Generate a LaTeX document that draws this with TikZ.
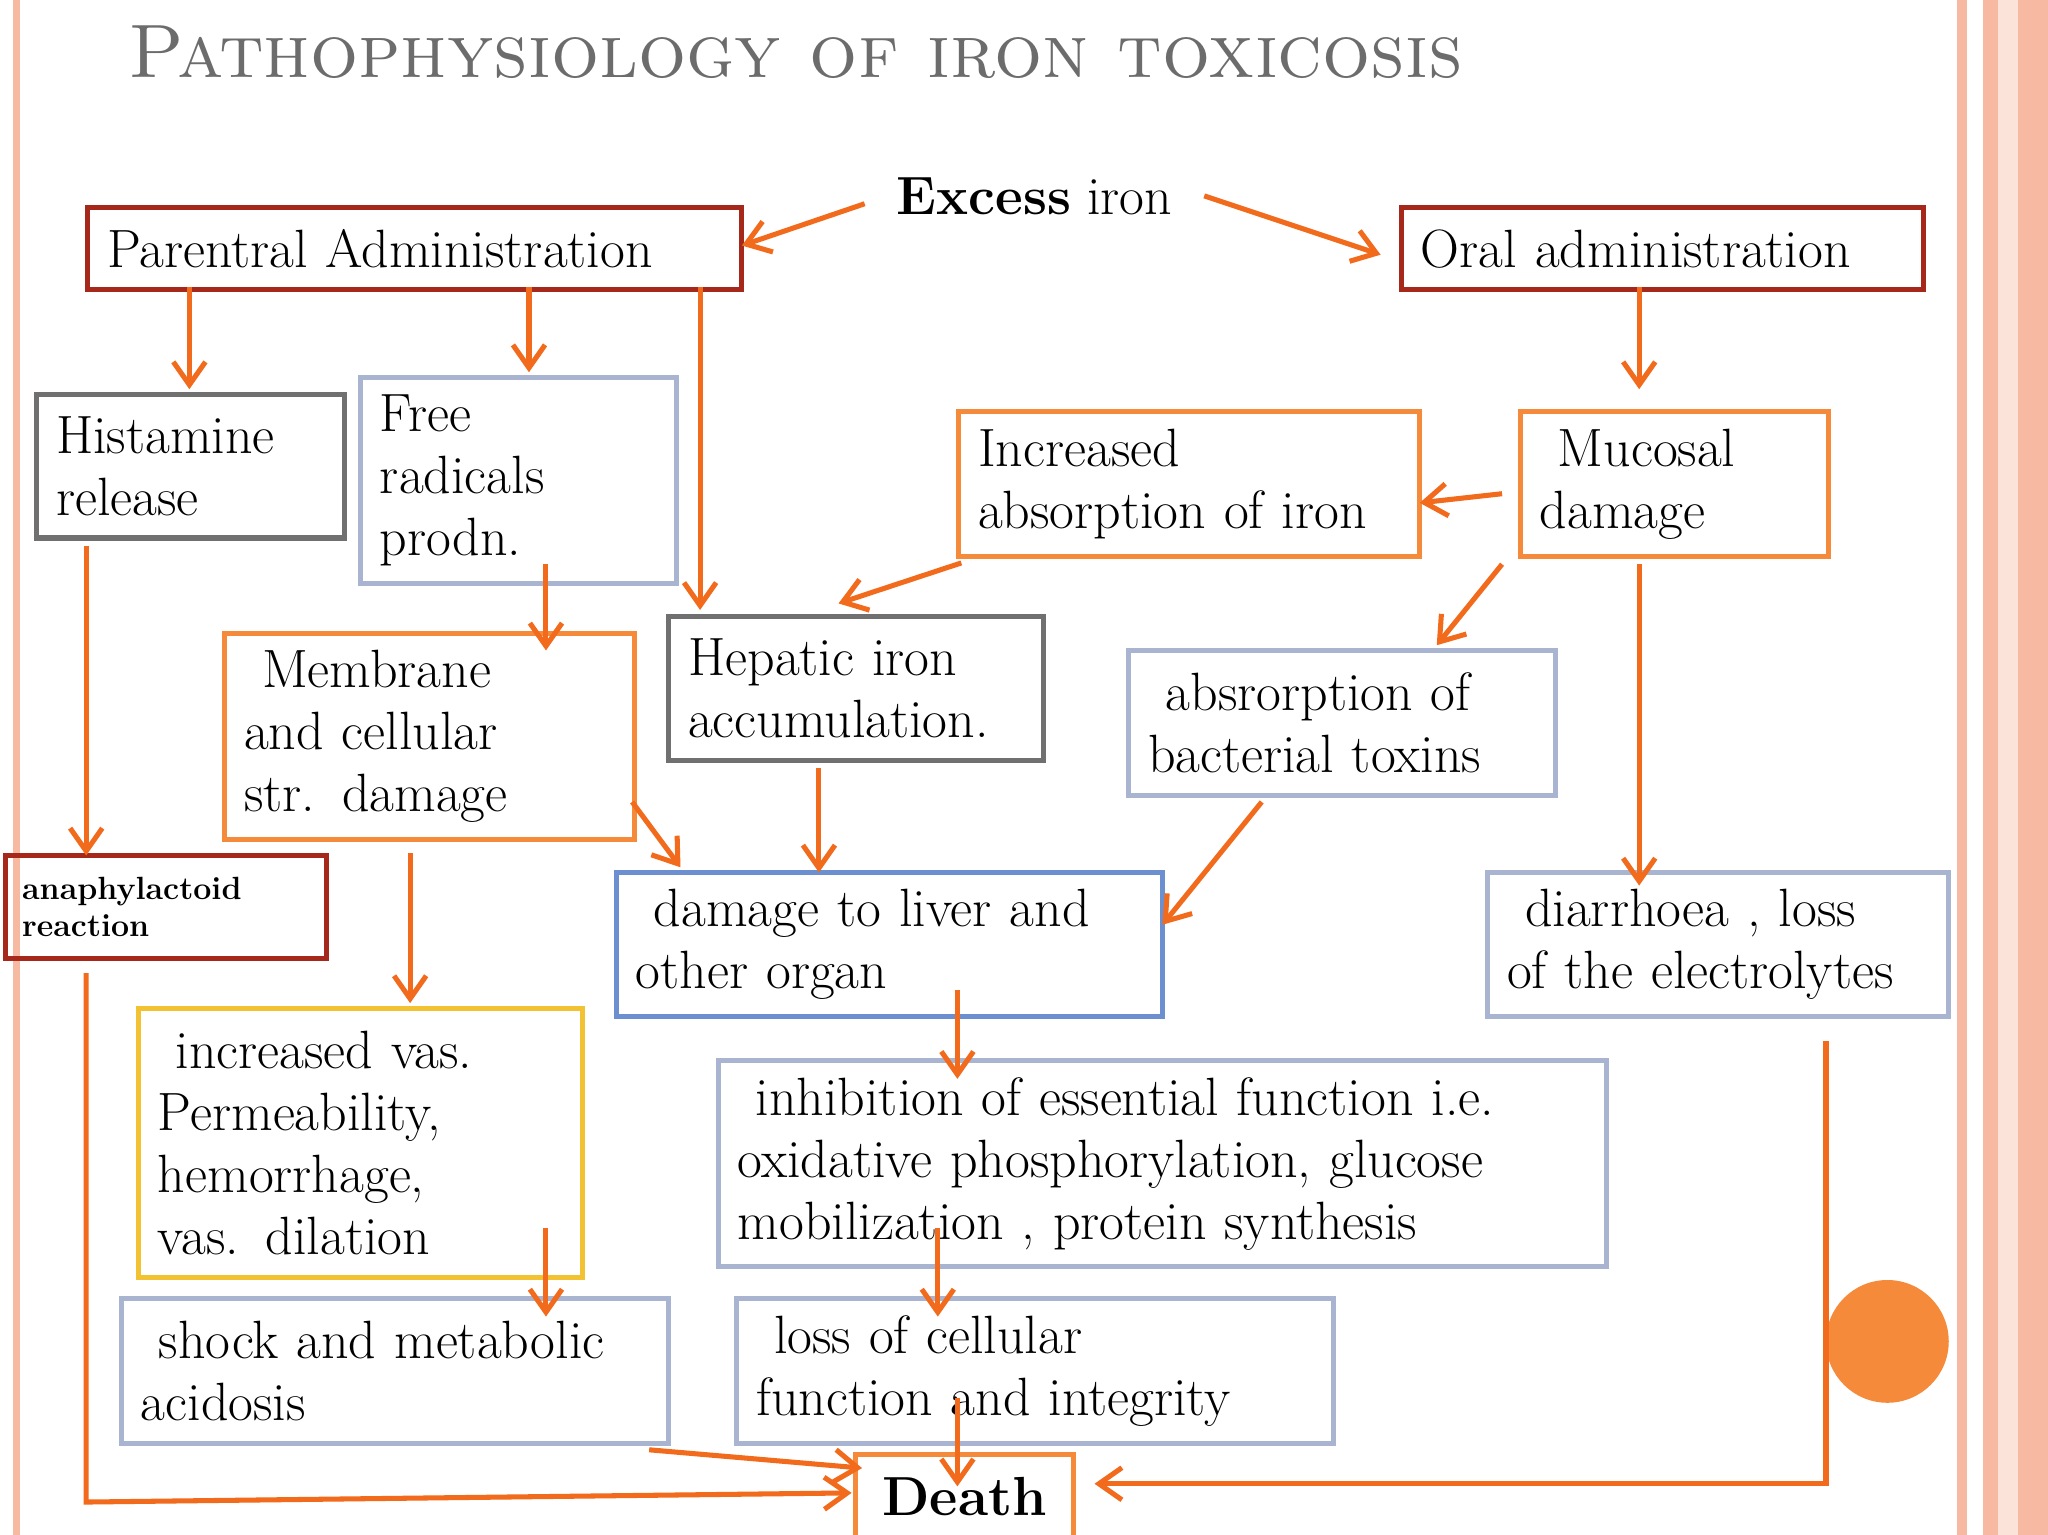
\documentclass[tikz,border=0pt]{standalone}
\usepackage{fontspec}
\usetikzlibrary{arrows.meta}
\definecolor{dred}{HTML}{A5281B}
\definecolor{gbox}{HTML}{707070}
\definecolor{lblue}{HTML}{A9B4D0}
\definecolor{obox}{HTML}{F58A3A}
\definecolor{bbox}{HTML}{6C8FD0}
\definecolor{ybox}{HTML}{F2C232}
\definecolor{arr}{HTML}{F26B1D}
\definecolor{pinkl}{HTML}{F7B9A2}
\begin{document}
\begin{tikzpicture}[x=0.02cm,y=-0.02cm,
  box/.style={draw=#1,line width=2.2pt,anchor=north west,inner xsep=0.3cm,inner ysep=0pt,
    font=\fontsize{23.5}{27}\selectfont,align=left},
  ar/.style={draw=arr,line width=2.2pt,-{Straight Barb[length=10pt,width=14pt]}}]
\useasboundingbox (0,0) rectangle (1568,1175);
\fill[white] (0,0) rectangle (1568,1175);
\fill[pinkl] (10,0) rectangle (15,1175);
\fill[pinkl] (1498,0) rectangle (1506,1175);
\fill[pinkl] (1518,0) rectangle (1568,1175);
\fill[white!60!pinkl] (1530,0) rectangle (1545,1175);
\node[anchor=west,text=gray!85!black,font=\fontsize{33}{36}\selectfont\scshape] (title) at (92,40) {Pathophysiology of iron toxicosis};
\node[font=\fontsize{23.5}{26}\selectfont] (ex) at (792,150) {\textbf{Excess} iron};
\node[box=dred,minimum width=10.02cm,minimum height=1.26cm,text width=9.42cm] (par) at (65,157) {Parentral Administration};
\node[box=dred,minimum width=8cm,minimum height=1.26cm,text width=7.4cm] (oral) at (1071,157) {Oral administration};
\node[box=gbox,minimum width=4.72cm,minimum height=2.2cm,text width=4.12cm] (hist) at (26,300) {Histamine\\release};
\node[box=lblue,minimum width=4.84cm,minimum height=3.16cm,text width=4.24cm] (free) at (274,287) {Free\\radicals\\prodn.};
\node[box=obox,minimum width=7.06cm,minimum height=2.22cm,text width=6.46cm] (inc) at (732,313) {Increased\\absorption of iron};
\node[box=obox,minimum width=4.72cm,minimum height=2.22cm,text width=4.12cm] (muc) at (1162,313) {\ Mucosal\\damage};
\node[box=gbox,minimum width=5.74cm,minimum height=2.2cm,text width=5.14cm] (hep) at (510,470) {Hepatic iron\\accumulation.};
\node[box=lblue,minimum width=6.54cm,minimum height=2.22cm,text width=5.94cm] (bac) at (862,496) {\ absrorption of\\bacterial toxins};
\node[box=obox,minimum width=6.28cm,minimum height=3.16cm,text width=5.68cm] (mem) at (170,483) {\ Membrane\\and cellular\\str. damage};
\node[box=dred,minimum width=4.92cm,minimum height=1.58cm,text width=4.4cm,inner xsep=0.26cm,font=\bfseries\fontsize{14}{16}\selectfont] (ana) at (2,653) {anaphylactoid\\reaction};
\node[box=bbox,minimum width=8.36cm,minimum height=2.2cm,text width=7.76cm] (liv) at (470,666) {\ damage to liver and\\other organ};
\node[box=lblue,minimum width=7.06cm,minimum height=2.2cm,text width=6.46cm] (dia) at (1137,666) {\ diarrhoea , loss\\of the electrolytes};
\node[box=ybox,minimum width=6.8cm,minimum height=4.12cm,text width=6.2cm] (vas) at (104,770) {\ increased vas.\\Permeability,\\hemorrhage,\\vas. dilation};
\node[box=lblue,minimum width=13.6cm,minimum height=3.16cm,text width=13cm] (inh) at (548,810) {\ inhibition of essential function i.e.\\oxidative phosphorylation, glucose\\mobilization , protein synthesis};
\node[box=lblue,minimum width=8.38cm,minimum height=2.22cm,text width=7.78cm] (shock) at (91,992) {\ shock and metabolic\\acidosis};
\node[box=lblue,minimum width=9.14cm,minimum height=2.22cm,text width=8.54cm] (loss) at (562,992) {\ loss of cellular\\function and integrity};
\node[box=obox,minimum width=3.34cm,minimum height=1.26cm,text width=2.74cm,align=center,font=\bfseries\fontsize{24}{26}\selectfont] (death) at (653,1112) {Death};
\fill[obox] (1445,1027) circle (47);
\coordinate (c1) at (66,1150);
\coordinate (c2) at (1398,1136);
\draw[ar] (662,156) -- (568,188);
\draw[ar] (922,150) -- (1057,195);
\draw[ar] (145,220) -- (145,298);
\draw[ar] (405,220) -- (405,285);
\draw[ar] (536,220) -- (536,467);
\draw[ar] (1255,220) -- (1255,298);
\draw[ar] (1150,378) -- (1087,385);
\draw[ar] (736,431) -- (642,462);
\draw[ar] (1150,432) -- (1100,494);
\draw[ar] (1255,432) -- (1255,678);
\draw[ar] (66,418) -- (66,655);
\draw[ar] (418,432) -- (418,498);
\draw[ar] (627,588) -- (627,668);
\draw[ar] (484,614) -- (521,664);
\draw[ar] (966,614) -- (890,708);
\draw[ar] (314,653) -- (314,768);
\draw[ar] (733,758) -- (733,826);
\draw[ar] (418,940) -- (418,1008);
\draw[ar] (718,940) -- (718,1008);
\draw[ar] (733,1070) -- (733,1138);
\draw[ar] (66,745) -- (c1) -- (652,1143);
\draw[ar] (497,1110) -- (660,1124);
\draw[ar] (1398,797) -- (c2) -- (838,1136);
\end{tikzpicture}
\end{document}
